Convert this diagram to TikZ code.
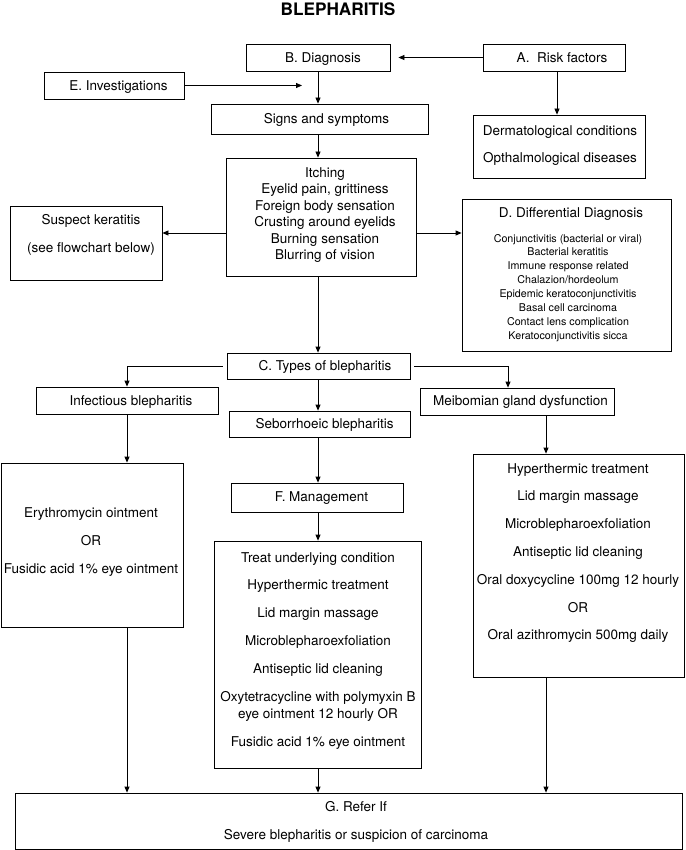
\documentclass[tikz,border=0pt]{standalone}
\usepackage{fontspec}
\setmainfont{TeX Gyre Heros}
\usetikzlibrary{arrows.meta}
\newcommand{\fr}{\rule{0pt}{10pt}}
\newcommand{\frs}{\rule{0pt}{8pt}}
\begin{document}
\begin{tikzpicture}[x=1pt,y=-1pt,
  bx/.style={draw, line width=0.8pt, inner sep=0pt},
  tx/.style={anchor=base, inner sep=0pt, font=\fontsize{13.5}{16}\selectfont},
  ml/.style={anchor=north, inner sep=0pt, align=center},
  arr/.style={line width=0.8pt, -{Triangle[length=6pt,width=5pt]}},
  ln/.style={line width=0.8pt}]
\useasboundingbox (0,0) rectangle (685,850);

% title
\node[anchor=base, inner sep=0pt, font=\fontsize{17.2}{20}\selectfont\bfseries] (title) at (338,15.35) {BLEPHARITIS};

% boxes
\node[bx, minimum width=144pt, minimum height=27pt] (B) at (318,57.5) {};
\node[bx, minimum width=142pt, minimum height=27pt] (A) at (554,57.5) {};
\node[bx, minimum width=140pt, minimum height=27pt] (E) at (114,85.5) {};
\node[bx, minimum width=217pt, minimum height=30pt] (S) at (319.5,119) {};
\node[bx, minimum width=172pt, minimum height=63pt] (Derm) at (559,146.5) {};
\node[bx, minimum width=190pt, minimum height=118pt] (Sym) at (321,217) {};
\node[bx, minimum width=152pt, minimum height=74pt] (Susp) at (86,243) {};
\node[bx, minimum width=209pt, minimum height=152pt] (D) at (566.5,275) {};
\node[bx, minimum width=183pt, minimum height=26pt] (C) at (318.5,366) {};
\node[bx, minimum width=182pt, minimum height=27pt] (Inf) at (127,400.5) {};
\node[bx, minimum width=181pt, minimum height=26pt] (Seb) at (319.5,424) {};
\node[bx, minimum width=194pt, minimum height=27pt] (Meib) at (517,401.5) {};
\node[bx, minimum width=182pt, minimum height=164pt] (Ery) at (92,545) {};
\node[bx, minimum width=172pt, minimum height=29pt] (F) at (317,497.5) {};
\node[bx, minimum width=207pt, minimum height=227pt] (Treat) at (317.5,654.5) {};
\node[bx, minimum width=211pt, minimum height=223pt] (MT) at (578.5,565.5) {};
\node[bx, minimum width=667pt, minimum height=56pt] (G) at (348.5,821) {};

% texts
\node[tx] (Btx) at (323,62.33) {B. Diagnosis};
\node[tx] (Atx) at (562,62.33) {A.\ \ Risk factors};
\node[tx] (Etx) at (118.5,90.33) {E. Investigations};
\node[tx] (Stx) at (326.5,123.83) {Signs and symptoms};
\node[ml, font=\fontsize{13.5}{27}\selectfont] (Dermtx) at (560,124.83)
  {\fr Dermatological conditions\\Opthalmological diseases};
\node[ml, font=\fontsize{13.5}{16.55}\selectfont] (Symtx) at (325,166.83)
  {\fr Itching\\Eyelid pain, grittiness\\Foreign body sensation\\Crusting around eyelids\\Burning sensation\\Blurring of vision};
\node[ml, font=\fontsize{13.5}{28}\selectfont] (Susptx) at (91,213.83)
  {\fr Suspect keratitis\\(see flowchart below)};
\node[tx] (Dtitle) at (571,217.83) {D. Differential Diagnosis};
\node[ml, font=\fontsize{10.7}{13.9}\selectfont] (Dtx) at (568,233.83)
  {\frs Conjunctivitis (bacterial or viral)\\Bacterial keratitis\\Immune response related\\Chalazion/hordeolum\\Epidemic keratoconjunctivitis\\Basal cell carcinoma\\Contact lens complication\\Keratoconjunctivitis sicca};
\node[tx] (Ctx) at (325,370.83) {C. Types of blepharitis};
\node[tx] (Inftx) at (131,405.33) {Infectious blepharitis};
\node[tx] (Sebtx) at (324.6,428.83) {Seborrhoeic blepharitis};
\node[tx] (Meibtx) at (520.5,405.83) {Meibomian gland dysfunction};
\node[ml, font=\fontsize{13.5}{28}\selectfont] (Erytx) at (91,506.83)
  {\fr Erythromycin ointment\\OR\\Fusidic acid 1\% eye ointment};
\node[tx] (Ftx) at (321.5,501.83) {F. Management};
\node[ml, font=\fontsize{13.5}{17.6}\selectfont] (Treattx) at (318,551.83)
  {\fr Treat underlying condition\\[10.2pt]Hyperthermic treatment\\[10.2pt]Lid margin massage\\[10.2pt]Microblepharoexfoliation\\[10.2pt]Antiseptic lid cleaning\\[10.2pt]Oxytetracycline with polymyxin B\\eye ointment 12 hourly OR\\[10.2pt]Fusidic acid 1\% eye ointment};
\node[ml, font=\fontsize{13.5}{27.8}\selectfont] (MTtx) at (578,462.83)
  {\fr Hyperthermic treatment\\Lid margin massage\\Microblepharoexfoliation\\Antiseptic lid cleaning\\Oral doxycycline 100mg 12 hourly\\OR\\Oral azithromycin 500mg daily};
\node[ml, font=\fontsize{13.5}{28}\selectfont] (Gtx) at (356,800.83)
  {\fr G. Refer If\\Severe blepharitis or suspicion of carcinoma};

% helper coordinates
\coordinate (ky) at (0,233);
\coordinate (xl) at (127,0);
\coordinate (xm) at (318,0);
\coordinate (xr) at (546,0);
\coordinate (Ein) at (302,85.5);

% connectors
\draw[arr] (A.west) -- ([xshift=8pt]B.east);
\draw[arr] (E.east) -- (Ein);
\draw[arr] (xm |- B.south) -- (xm |- S.north);
\draw[arr] ([xshift=3pt]A.south) -- ([xshift=3pt]A.south |- Derm.north);
\draw[arr] (xm |- S.south) -- (xm |- Sym.north);
\draw[arr] (Sym.west |- ky) -- (Susp.east |- ky);
\draw[arr] (Sym.east |- ky) -- (D.west |- ky);
\draw[arr] (xm |- Sym.south) -- (xm |- C.north);
\draw[arr] ([xshift=-4pt]C.west) -| (xl |- Inf.north);
\draw[arr] ([xshift=4pt]C.east) -| ([xshift=-9pt]Meib.north);
\draw[arr] (xm |- C.south) -- (xm |- Seb.north);
\draw[arr] (xl |- Inf.south) -- (xl |- Ery.north);
\draw[arr] (xm |- Seb.south) -- (xm |- F.north);
\draw[arr] (xm |- F.south) -- (xm |- Treat.north);
\draw[arr] (xr |- Meib.south) -- (xr |- MT.north);
\draw[arr] (xl |- Ery.south) -- (xl |- G.north);
\draw[arr] (xm |- Treat.south) -- (xm |- G.north);
\draw[arr] (xr |- MT.south) -- (xr |- G.north);
\end{tikzpicture}
\end{document}
